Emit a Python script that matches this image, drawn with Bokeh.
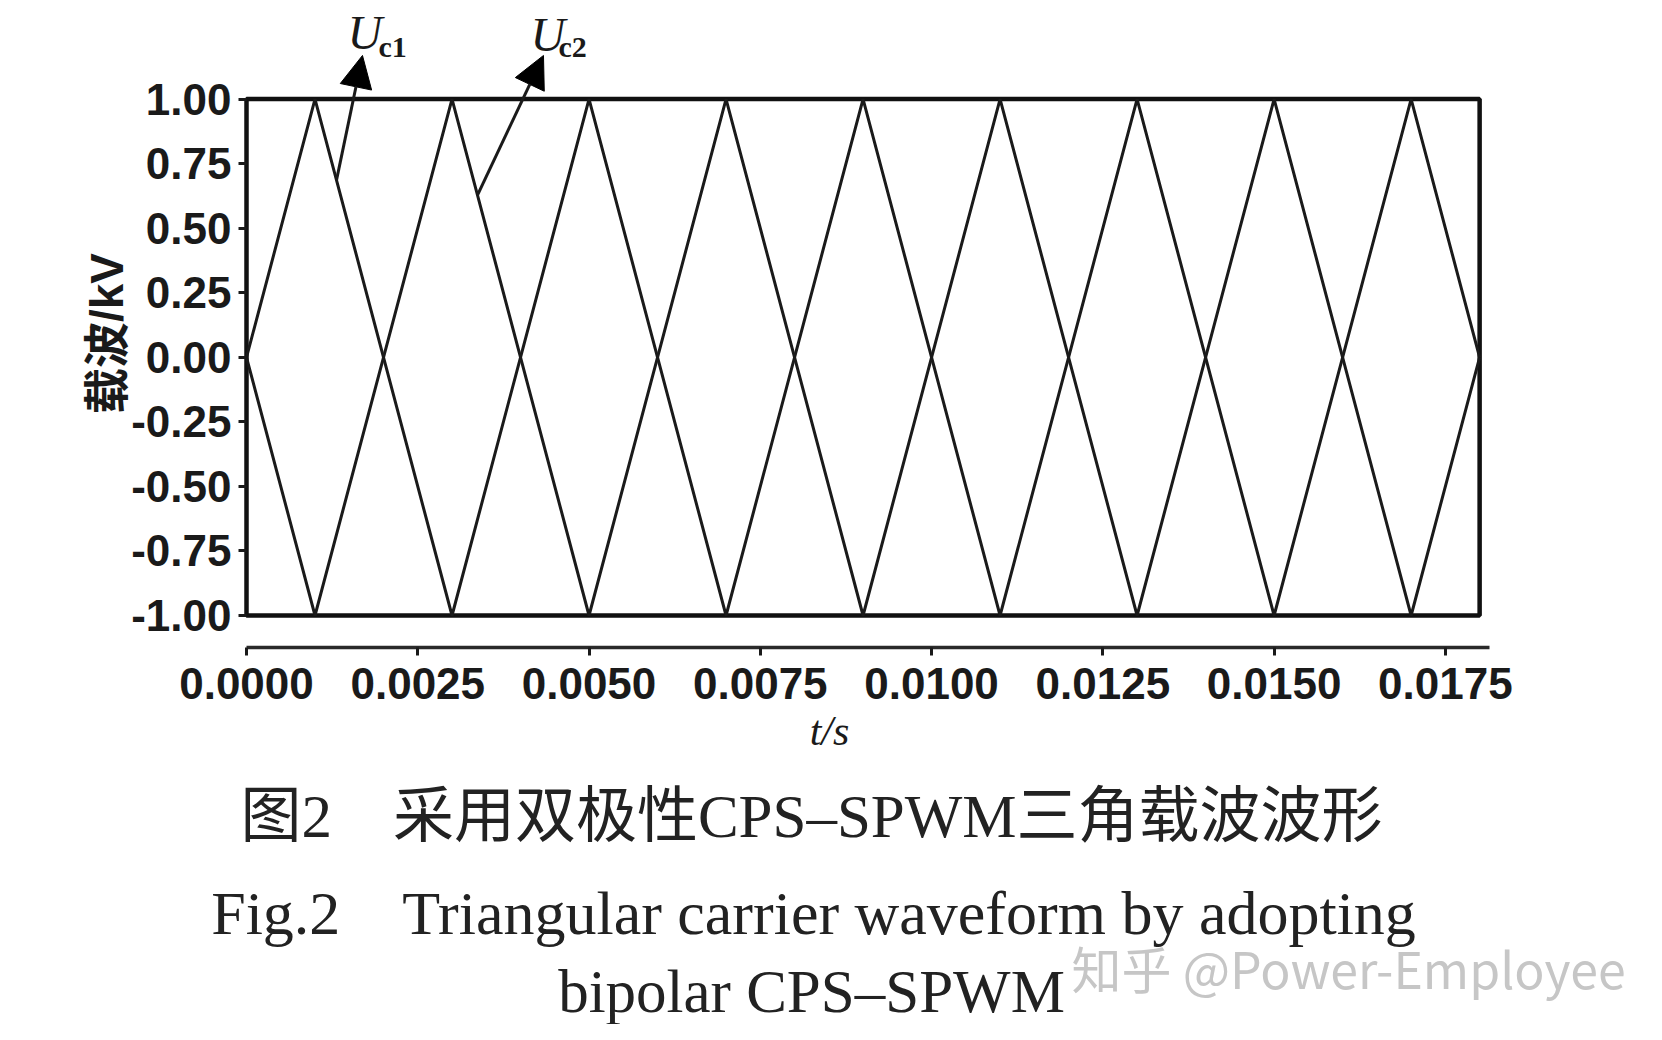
import math
from bokeh.plotting import figure
from bokeh.models import (Range1d, FixedTicker, PrintfTickFormatter, Label, Arrow,
                          NormalHead, ColumnDataSource)
from bokeh.embed import file_html
from bokeh.resources import INLINE

# ---------------- data ----------------
T_S = [0.000, 0.001, 0.002, 0.003, 0.004, 0.005, 0.006, 0.007, 0.008, 0.009,
       0.010, 0.011, 0.012, 0.013, 0.014, 0.015, 0.016, 0.017, 0.018]
UC1_KV = [0.0, 1.0, 0.0, -1.0, 0.0, 1.0, 0.0, -1.0, 0.0, 1.0,
          0.0, -1.0, 0.0, 1.0, 0.0, -1.0, 0.0, 1.0, 0.0]
UC2_KV = [0.0, -1.0, 0.0, 1.0, 0.0, -1.0, 0.0, 1.0, 0.0, -1.0,
          0.0, 1.0, 0.0, -1.0, 0.0, 1.0, 0.0, -1.0, 0.0]
X_TICKS = [0.0, 0.0025, 0.0050, 0.0075, 0.0100, 0.0125, 0.0150, 0.0175]
Y_TICKS = [-1.0, -0.75, -0.5, -0.25, 0.0, 0.25, 0.5, 0.75, 1.0]
X_AXIS_END = 0.01815
# callout arrows: from a point on the wave to the series label
ARROW_T0 = [0.001314, 0.003372]
ARROW_V0 = [0.686, 0.628]
ARROW_T1 = [0.001693, 0.004335]
ARROW_V1 = [1.169, 1.169]

Y_LABEL = "载波/kV"
X_LABEL = "t/s"
CAPTION_CN = "图2　采用双极性CPS–SPWM三角载波波形"
CAPTION_EN1 = "Fig.2　Triangular carrier waveform by adopting"
CAPTION_EN2 = "bipolar CPS–SPWM"
WATERMARK = "知乎 @Power-Employee"

# ---------------- layout ----------------
W, H = 1646, 1024
PX_S = 68507.0      # pixels per second
PX_KV = 258.2       # pixels per kV
T0_CX = 246.0       # canvas x of t = 0
V1_CY = 98.6        # canvas y of v = 1
AXIS_CY = 647       # canvas y of the separate time axis
X_START = -T0_CX / PX_S
X_END = (W - T0_CX) / PX_S
Y_TOP = 1 + V1_CY / PX_KV
Y_BOT = 1 - (H - V1_CY) / PX_KV
AXIS_V = 1 - (AXIS_CY - V1_CY) / PX_KV


def dx(cx):
    return (cx - T0_CX) / PX_S


def dy(cy):
    return 1 - (cy - V1_CY) / PX_KV


INK = "#1a1a1a"
SANS = "Liberation Sans"
SERIF_CJK = "Liberation Serif, Noto Sans CJK SC"

p = figure(frame_width=W, frame_height=H,
           x_range=Range1d(X_START, X_END), y_range=Range1d(Y_BOT, Y_TOP),
           output_backend="svg", toolbar_location=None,
           min_border_left=0, min_border_right=0,
           min_border_top=0, min_border_bottom=0)
p.outline_line_color = None
p.grid.visible = False
p.background_fill_color = "white"
p.border_fill_color = "white"

# x axis (separate, below the box)
xa = p.xaxis[0]
xa.fixed_location = AXIS_V
xa.bounds = (min(T_S), X_AXIS_END)
xa.ticker = FixedTicker(ticks=X_TICKS)
xa.formatter = PrintfTickFormatter(format="%.4f")
xa.axis_line_width = 3.5
xa.axis_line_color = "#2a2a2a"
xa.major_tick_line_width = 3
xa.major_tick_line_color = INK
xa.major_tick_out = 8
xa.major_tick_in = 0
xa.minor_tick_line_color = None
xa.major_label_text_font = SANS
xa.major_label_text_font_style = "bold"
xa.major_label_text_font_size = "44px"
xa.major_label_text_color = INK
xa.major_label_standoff = 12

# y axis (on the left edge of the box)
ya = p.yaxis[0]
ya.fixed_location = min(T_S)
ya.bounds = (min(Y_TICKS), max(Y_TICKS))
ya.ticker = FixedTicker(ticks=Y_TICKS)
ya.formatter = PrintfTickFormatter(format="%.2f")
ya.axis_line_color = None
ya.major_tick_line_width = 3
ya.major_tick_line_color = INK
ya.major_tick_out = 8
ya.major_tick_in = 0
ya.minor_tick_line_color = None
ya.major_label_text_font = SANS
ya.major_label_text_font_style = "bold"
ya.major_label_text_font_size = "44px"
ya.major_label_text_color = INK
ya.major_label_standoff = 7

# plot box drawn from the data extent
p.quad(left=[min(T_S)], right=[max(T_S)], bottom=[min(UC1_KV)], top=[max(UC1_KV)],
       fill_color=None, line_color="#111111", line_width=4.5)

# carriers
p.line(T_S, UC1_KV, line_color=INK, line_width=3)
p.line(T_S, UC2_KV, line_color=INK, line_width=3)

# callout arrows
asrc = ColumnDataSource(dict(x0=ARROW_T0, y0=ARROW_V0, x1=ARROW_T1, y1=ARROW_V1))
p.add_layout(Arrow(x_start="x0", y_start="y0", x_end="x1", y_end="y1", source=asrc,
                   line_color=INK, line_width=3,
                   end=NormalHead(size=32, fill_color="black", line_color="black")))

# series labels U_c1, U_c2
for ux, uy, sx, sy, sub in [(347, 32, 378, 46, "c1"), (530, 34, 558, 46, "c2")]:
    p.add_layout(Label(x=dx(ux), y=dy(uy), text="U", text_font="Liberation Serif",
                       text_font_style="italic", text_font_size="48px",
                       text_color=INK, text_baseline="middle", text_align="left"))
    p.add_layout(Label(x=dx(sx), y=dy(sy), text=sub, text_font="Liberation Serif",
                       text_font_style="bold", text_font_size="30px",
                       text_color=INK, text_baseline="middle", text_align="left"))

# axis titles
p.add_layout(Label(x=dx(106), y=dy(333), text=Y_LABEL, angle=math.pi / 2,
                   text_font="Liberation Sans, Noto Sans CJK SC", text_font_style="bold",
                   text_font_size="46px", text_color=INK,
                   text_align="center", text_baseline="middle"))
p.add_layout(Label(x=dx(829), y=dy(730), text=X_LABEL, text_font="Liberation Serif",
                   text_font_style="italic", text_font_size="42px", text_color=INK,
                   text_align="center", text_baseline="middle"))

# captions
p.add_layout(Label(x=dx(811), y=dy(816), text=CAPTION_CN, text_font=SERIF_CJK,
                   text_font_size="61px", text_color="#222222",
                   text_align="center", text_baseline="middle"))
p.add_layout(Label(x=dx(813), y=dy(912), text=CAPTION_EN1, text_font=SERIF_CJK,
                   text_font_size="62px", text_color="#222222",
                   text_align="center", text_baseline="middle"))
p.add_layout(Label(x=dx(811), y=dy(991), text=CAPTION_EN2, text_font=SERIF_CJK,
                   text_font_size="61px", text_color="#222222",
                   text_align="center", text_baseline="middle"))

# watermark
p.add_layout(Label(x=dx(1071), y=dy(966), text=WATERMARK, text_font="Noto Sans CJK SC",
                   text_font_size="50px", text_color="#c6c6c6",
                   text_align="left", text_baseline="middle"))

open("out.html", "w").write(file_html(p, INLINE))
